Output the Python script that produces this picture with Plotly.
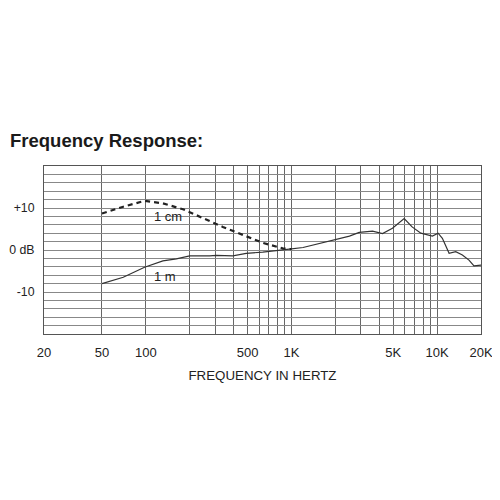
import plotly.graph_objects as go

# 1 m response (solid)
f_1m = [50, 70, 98, 131, 162, 200, 274, 305, 396, 489, 635, 785, 968, 1200, 1500, 2000, 2500,
        2918, 3602, 4217, 4933, 5938, 6730, 7728, 8361, 9277, 10150, 10860, 12080, 13420,
        14900, 16540, 17900, 19380, 20000]
db_1m = [-8.0, -6.5, -4.1, -2.6, -2.1, -1.4, -1.4, -1.3, -1.4, -0.8, -0.5, -0.2, 0.2, 0.6, 1.4,
         2.6, 3.3, 4.2, 4.5, 3.9, 5.2, 7.5, 5.5, 4.0, 3.7, 3.3, 4.0, 2.8, -0.8, -0.4,
         -1.2, -2.4, -3.8, -3.6, -3.6]

# 1 cm response (dashed)
f_1cm = [50, 70, 98, 131, 180, 247, 338, 463, 635, 870, 1000]
db_1cm = [8.7, 10.3, 11.7, 11.1, 9.7, 7.5, 5.5, 3.6, 1.7, 0.4, 0.2]

grid_freqs = [20, 50, 100, 200, 300, 400, 500, 600, 700, 800, 900, 1000,
              2000, 3000, 4000, 5000, 6000, 7000, 8000, 9000, 10000, 20000]
grid_text = ["20", "50", "100", "", "", "", "500", "", "", "", "", "1K",
             "", "", "", "5K", "", "", "", "", "10K", "20K"]

y_ticks = [-20, -18, -16, -14, -12, -10, -8, -6, -4, -2, 0, 2, 4, 6, 8, 10, 12, 14, 16, 18, 20]
y_labels = {10: "+10", 0: "0 dB", -10: "-10"}
y_text = [y_labels.get(v, "") for v in y_ticks]

FONT = "Liberation Sans, Arial, sans-serif"
OFF = 8  # page body margin
# plot area in page pixels: x 44..481, y 166..334
L = 44 - OFF
T = 166 - OFF
W, H = 500, 500
R = W - (481 - OFF)
B = H - (334 - OFF)
PW, PH = W - L - R, H - T - B

fig = go.Figure()
fig.add_trace(go.Scatter(x=f_1m, y=db_1m, mode="lines",
                         line=dict(color="#333333", width=1.2), showlegend=False))
fig.add_trace(go.Scatter(x=f_1cm, y=db_1cm, mode="lines",
                         line=dict(color="#222222", width=2.2, dash="5px,4px"), showlegend=False))

annotations = [
    dict(x=2.149, y=7.9, xref="x", yref="y", text="1 cm", showarrow=False,
         font=dict(family=FONT, size=13, color="#222")),
    dict(x=2.130, y=-6.2, xref="x", yref="y", text="1 m", showarrow=False,
         font=dict(family=FONT, size=13, color="#222")),
    dict(text="<b>Frequency Response:</b>", xref="paper", yref="paper",
         x=(8 - OFF - L) / PW, y=(H - B - (140 - OFF)) / PH, xanchor="left", yanchor="middle",
         showarrow=False, font=dict(family=FONT, size=18.5, color="#1a1a1a")),
]

fig.update_layout(
    width=W, height=H,
    margin=dict(l=L, r=R, t=T, b=B, autoexpand=False),
    paper_bgcolor="white", plot_bgcolor="white",
    font=dict(family=FONT, size=13, color="#222"),
    annotations=annotations,
    xaxis=dict(type="log", range=[1.30103, 4.30103], tickvals=grid_freqs, ticktext=grid_text,
               showgrid=True, gridcolor="#666666", gridwidth=1, showline=True, mirror=True,
               linecolor="#555555", linewidth=1, ticks="", zeroline=False, automargin=False,
               ticklabelstandoff=6,
               title=dict(text="FREQUENCY IN HERTZ", standoff=12, font=dict(size=13.3)),
               tickfont=dict(size=13)),
    yaxis=dict(range=[-20, 20], tickvals=y_ticks, ticktext=y_text, showgrid=True,
               gridcolor="#888888", gridwidth=1, showline=True, mirror=True,
               linecolor="#555555", linewidth=1, ticks="", zeroline=False, automargin=False,
               ticklabelstandoff=6, tickfont=dict(size=12.3)),
)

fig.write_html("out.html")
